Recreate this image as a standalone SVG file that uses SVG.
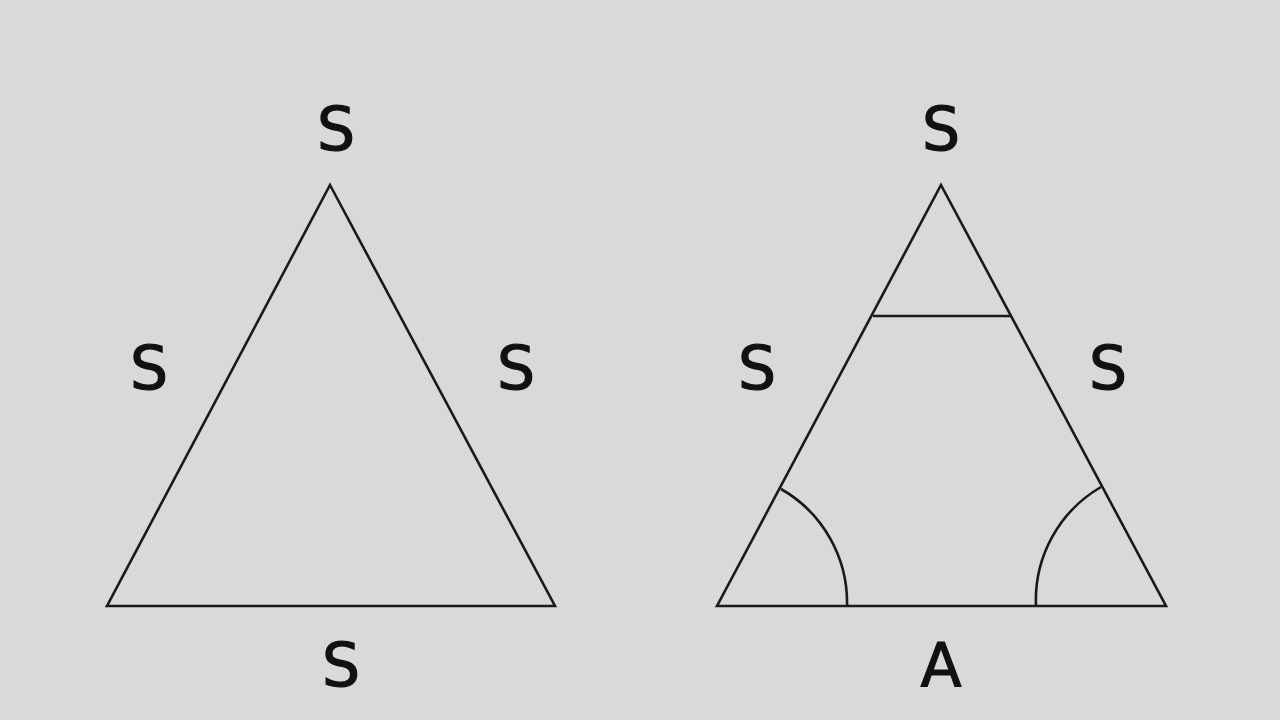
<svg xmlns="http://www.w3.org/2000/svg" width="1280" height="720" viewBox="0 0 1280 720">
<style>
.ln{fill:none;stroke:#1a1a1a;stroke-width:2.6;stroke-linejoin:miter}
.lb{font-family:"DejaVu Sans","Liberation Sans",sans-serif;font-size:60px;fill:#111;stroke:#111;stroke-width:1.2;text-anchor:middle}
</style>
<rect width="1280" height="720" fill="#d9d9d9"/>
<g id="left-triangle">
<polygon class="ln" points="330,185 555,606 107,606"/>
<text class="lb" x="336" y="150">S</text>
<text class="lb" x="149" y="389">S</text>
<text class="lb" x="516" y="389">S</text>
<text class="lb" x="341" y="686">S</text>
</g>
<g id="right-triangle">
<polygon class="ln" points="941,185 1166,606 717,606"/>
<line class="ln" x1="873" y1="316" x2="1010" y2="316"/>
<path class="ln" d="M781,489 A131,131 0 0 1 847,606"/>
<path class="ln" d="M1101,487 A131,131 0 0 0 1036,606"/>
<text class="lb" x="941" y="150">S</text>
<text class="lb" x="757" y="389">S</text>
<text class="lb" x="1108" y="389">S</text>
<text class="lb" x="941" y="686">A</text>
</g>
<g id="connectors"></g>
</svg>
